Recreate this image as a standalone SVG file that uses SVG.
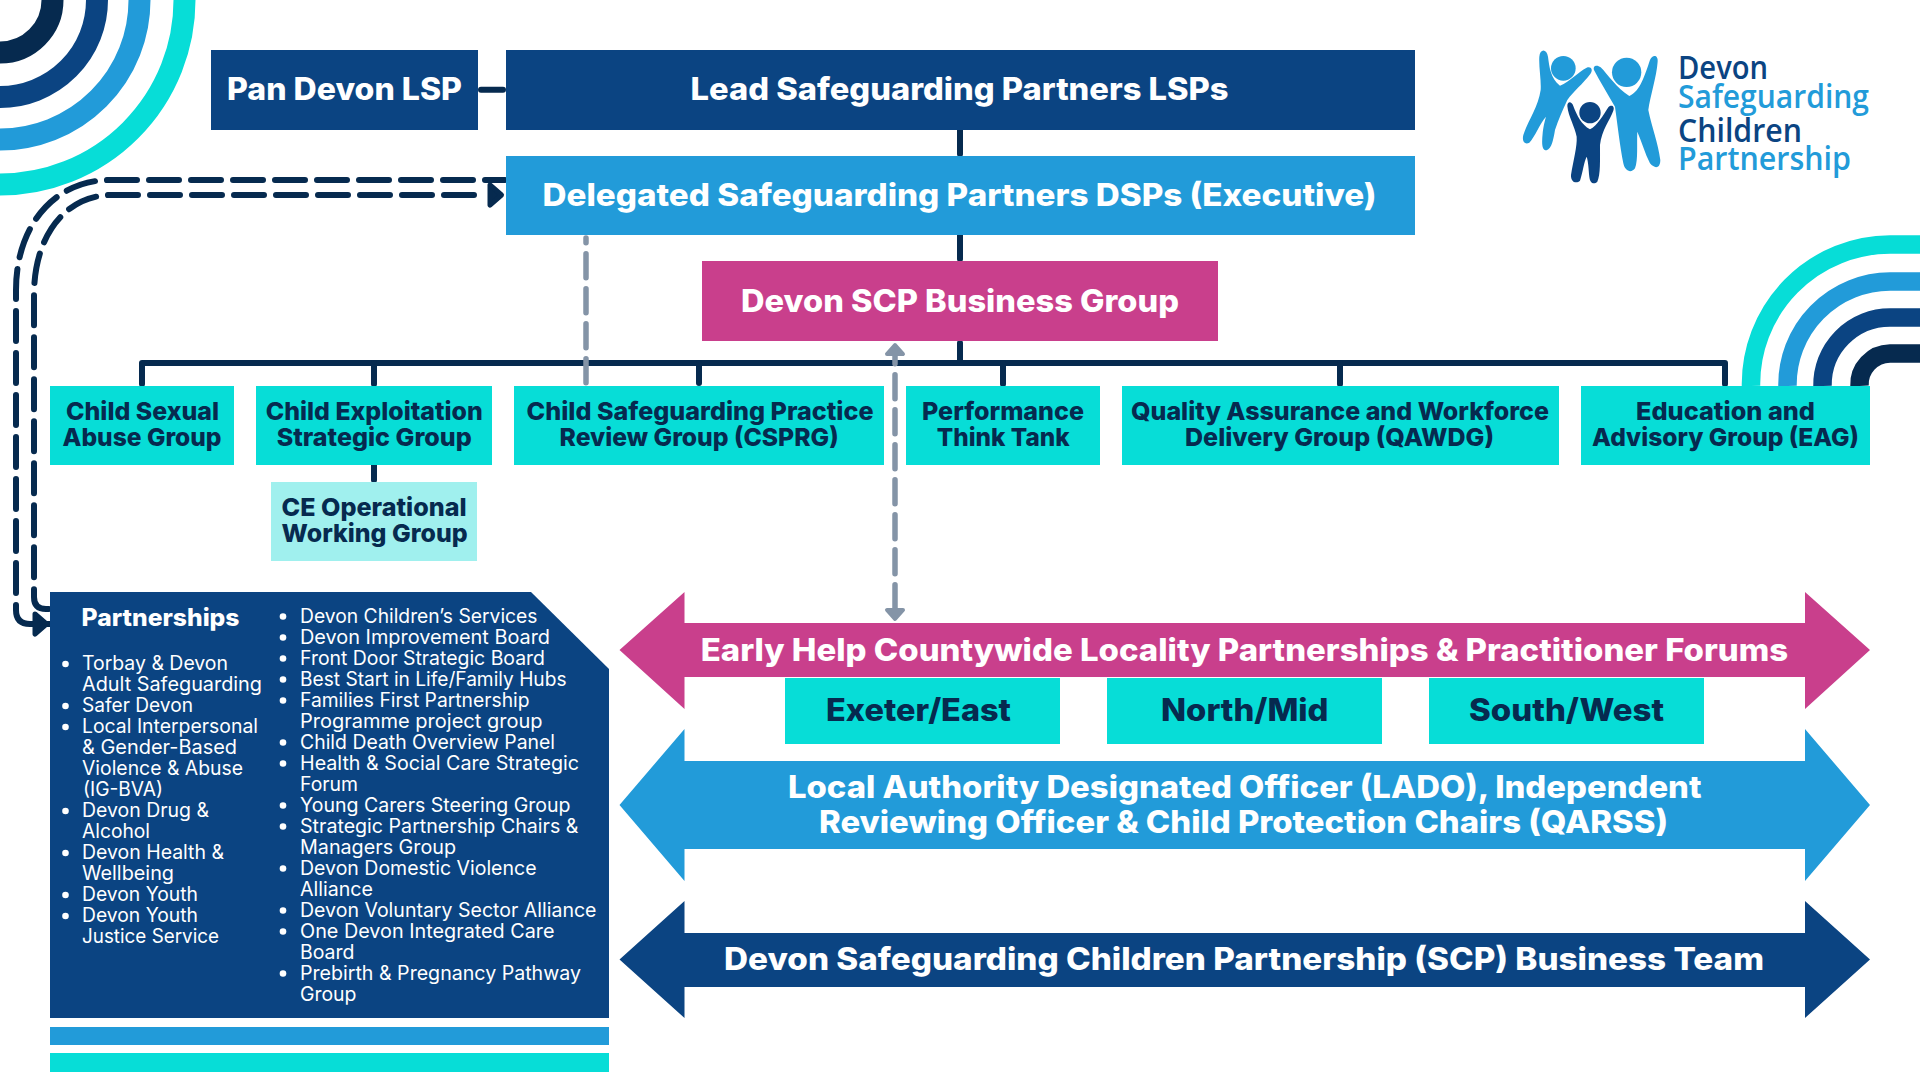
<svg xmlns="http://www.w3.org/2000/svg" width="1920" height="1080" viewBox="0 0 1920 1080">
<style>
text{font-family:"Inter","Noto Sans","Liberation Sans",sans-serif}
.h{font-weight:800;fill:#fff;font-size:31px}
.s{font-weight:800;fill:#062a4f;font-size:25px}
.d{font-weight:800;fill:#062a4f;font-size:31px}
.b{font-weight:400;fill:#fff;font-size:19.5px}
.navy{fill:#0b4482}.blue{fill:#229bd9}.teal{fill:#07ddd7}.pink{fill:#c93f8c}
.solid{fill:none;stroke:#062a4f;stroke-width:6;stroke-linecap:round;stroke-linejoin:round}
.dash{fill:none;stroke:#062a4f;stroke-width:6;stroke-linecap:round;stroke-dasharray:30 12}
.grey{fill:none;stroke:#8494a7;stroke-width:5.5;stroke-linecap:round;stroke-dasharray:24 11}
.ring{fill:none;stroke-width:22}
.arc{fill:none;stroke-width:18.5}
.lg{font-family:"Open Sans","Noto Sans",sans-serif;font-weight:600;font-size:33px}
</style>
<defs>
<marker id="hd" markerUnits="userSpaceOnUse" markerWidth="40" markerHeight="40" refX="20" refY="20" orient="auto-start-reverse" overflow="visible"><path d="M5,10 L16.5,20 L5,30 Z" fill="#062a4f" stroke="#062a4f" stroke-width="5" stroke-linejoin="round"/></marker>
<marker id="hg" markerUnits="userSpaceOnUse" markerWidth="40" markerHeight="40" refX="20" refY="20" orient="auto-start-reverse" overflow="visible"><path d="M18,12 L27,20 L18,28 Z" fill="#8494a7" stroke="#8494a7" stroke-width="4" stroke-linejoin="round"/></marker>
</defs>
<rect width="1920" height="1080" fill="#fff"/>

<g id="decor-top-left">
<circle class="ring" cx="0" cy="0" r="184.5" stroke="#07ddd7"/>
<circle class="ring" cx="0" cy="0" r="139.5" stroke="#229bd9"/>
<circle class="ring" cx="0" cy="0" r="97" stroke="#0b4482"/>
<circle class="ring" cx="0" cy="0" r="52.5" stroke="#062a4f"/>
</g>
<g id="decor-right">
<path class="arc" d="M1751,386 A139.5,139.5 0 0 1 1890,244.5 H1920" stroke="#07ddd7"/>
<path class="arc" d="M1787.5,386 A103,103 0 0 1 1890,281.5 H1920" stroke="#229bd9"/>
<path class="arc" d="M1822.5,386 A67.5,67.5 0 0 1 1890,317.5 H1920" stroke="#0b4482"/>
<path class="arc" d="M1859.5,386 A31,31 0 0 1 1890,353.5 H1920" stroke="#062a4f"/>
</g>

<g id="connectors">
<path class="solid" d="M481,89.7 H503"/>
<path class="solid" d="M960,130 V154"/>
<path class="solid" d="M960,235 V259"/>
<path class="solid" d="M960,343 V363"/>
<path class="solid" d="M142,384 V363 H1725 V384"/>
<path class="solid" d="M374,363 V384"/>
<path class="solid" d="M699,363 V383"/>
<path class="solid" d="M1003,363 V384"/>
<path class="solid" d="M1340,363 V384"/>
<path class="solid" d="M374,465 V480"/>
<path class="grey" stroke-dashoffset="19.3" d="M586,238 V383"/>
<path class="grey" stroke-dashoffset="12.3" d="M895,352 V612" marker-start="url(#hg)" marker-end="url(#hg)"/>
<path class="dash" stroke-dashoffset="10" d="M505,180 H110 C55,180 16,225 16,290 V610 Q16,624 30,624 H50" marker-end="url(#hd)"/>
<path class="dash" stroke-dashoffset="30" d="M486,195 H112 C66,195 34,235 34,295 V597 Q34,609 46,609 H50"/>
<path d="M505,195 H487" marker-start="url(#hd)" fill="none"/>
</g>

<g id="pan-devon-lsp"><rect class="navy" x="211" y="50" width="267" height="80"/><text class="h" x="227" y="99.5" textLength="235" lengthAdjust="spacingAndGlyphs">Pan Devon LSP</text></g>
<g id="lead-safeguarding-partners"><rect class="navy" x="506" y="50" width="909" height="80"/><text class="h" x="690.6" y="100" textLength="538" lengthAdjust="spacingAndGlyphs">Lead Safeguarding Partners LSPs</text></g>
<g id="delegated-safeguarding-partners"><rect class="blue" x="506" y="156" width="909" height="79"/><text class="h" x="542.5" y="206" textLength="834" lengthAdjust="spacingAndGlyphs">Delegated Safeguarding Partners DSPs (Executive)</text></g>
<g id="business-group"><rect class="pink" x="702" y="261" width="516" height="80"/><text class="h" x="741" y="312" textLength="438" lengthAdjust="spacingAndGlyphs">Devon SCP Business Group</text></g>

<g id="child-sexual-abuse"><rect class="teal" x="50" y="386" width="184" height="79"/><text class="s" x="66" y="420" textLength="153" lengthAdjust="spacingAndGlyphs">Child Sexual</text><text class="s" x="62.5" y="446" textLength="159" lengthAdjust="spacingAndGlyphs">Abuse Group</text></g>
<g id="child-exploitation"><rect class="teal" x="256" y="386" width="236" height="79"/><text class="s" x="265.7" y="420" textLength="217" lengthAdjust="spacingAndGlyphs">Child Exploitation</text><text class="s" x="276.7" y="446" textLength="195" lengthAdjust="spacingAndGlyphs">Strategic Group</text></g>
<g id="cspr-group"><rect class="teal" x="514" y="386" width="370" height="79"/><text class="s" x="526.5" y="420" textLength="347" lengthAdjust="spacingAndGlyphs">Child Safeguarding Practice</text><text class="s" x="559.6" y="446" textLength="279" lengthAdjust="spacingAndGlyphs">Review Group (CSPRG)</text></g>
<g id="performance-think-tank"><rect class="teal" x="906" y="386" width="194" height="79"/><text class="s" x="922" y="420" textLength="162" lengthAdjust="spacingAndGlyphs">Performance</text><text class="s" x="936.7" y="446" textLength="133" lengthAdjust="spacingAndGlyphs">Think Tank</text></g>
<g id="qawdg"><rect class="teal" x="1122" y="386" width="437" height="79"/><text class="s" x="1131" y="420" textLength="418" lengthAdjust="spacingAndGlyphs">Quality Assurance and Workforce</text><text class="s" x="1185" y="446" textLength="309" lengthAdjust="spacingAndGlyphs">Delivery Group (QAWDG)</text></g>
<g id="education-advisory"><rect class="teal" x="1581" y="386" width="289" height="79"/><text class="s" x="1636" y="420" textLength="179" lengthAdjust="spacingAndGlyphs">Education and</text><text class="s" x="1592" y="446" textLength="267" lengthAdjust="spacingAndGlyphs">Advisory Group (EAG)</text></g>
<g id="ce-operational"><rect x="271" y="482" width="206" height="79" fill="#a0f0ee"/><text class="s" x="281.6" y="515.5" textLength="185" lengthAdjust="spacingAndGlyphs">CE Operational</text><text class="s" x="281.6" y="541.5" textLength="186" lengthAdjust="spacingAndGlyphs">Working Group</text></g>

<g id="partnerships">
<path class="navy" d="M50,592 H531 L609,669 V1018 H50 Z"/>
<rect class="blue" x="50" y="1027" width="559" height="18"/>
<rect class="teal" x="50" y="1053" width="559" height="19"/>
<text x="81.5" y="625.5" font-size="24" font-weight="800" fill="#fff" textLength="158" lengthAdjust="spacingAndGlyphs">Partnerships</text>
<g fill="#fff">
<circle cx="65.5" cy="664" r="3.3"/><circle cx="65.5" cy="706" r="3.3"/><circle cx="65.5" cy="727" r="3.3"/><circle cx="65.5" cy="811" r="3.3"/><circle cx="65.5" cy="853" r="3.3"/><circle cx="65.5" cy="895" r="3.3"/><circle cx="65.5" cy="916" r="3.3"/>
<circle cx="283" cy="616.5" r="3.3"/><circle cx="283" cy="637.5" r="3.3"/><circle cx="283" cy="658.5" r="3.3"/><circle cx="283" cy="679.5" r="3.3"/><circle cx="283" cy="700.5" r="3.3"/><circle cx="283" cy="742.5" r="3.3"/><circle cx="283" cy="763.5" r="3.3"/><circle cx="283" cy="805.5" r="3.3"/><circle cx="283" cy="826.5" r="3.3"/><circle cx="283" cy="868.5" r="3.3"/><circle cx="283" cy="910.5" r="3.3"/><circle cx="283" cy="931.5" r="3.3"/><circle cx="283" cy="973.5" r="3.3"/>
</g>
<text class="b" x="82" y="670" textLength="146" lengthAdjust="spacingAndGlyphs">Torbay &amp; Devon</text>
<text class="b" x="82" y="691" textLength="180" lengthAdjust="spacingAndGlyphs">Adult Safeguarding</text>
<text class="b" x="82" y="712" textLength="111" lengthAdjust="spacingAndGlyphs">Safer Devon</text>
<text class="b" x="82" y="733" textLength="176" lengthAdjust="spacingAndGlyphs">Local Interpersonal</text>
<text class="b" x="82" y="754" textLength="155" lengthAdjust="spacingAndGlyphs">&amp; Gender-Based</text>
<text class="b" x="82" y="775" textLength="161" lengthAdjust="spacingAndGlyphs">Violence &amp; Abuse</text>
<text class="b" x="83" y="796" textLength="80" lengthAdjust="spacingAndGlyphs">(IG-BVA)</text>
<text class="b" x="82" y="817" textLength="127" lengthAdjust="spacingAndGlyphs">Devon Drug &amp;</text>
<text class="b" x="82" y="838" textLength="68" lengthAdjust="spacingAndGlyphs">Alcohol</text>
<text class="b" x="82" y="859" textLength="142" lengthAdjust="spacingAndGlyphs">Devon Health &amp;</text>
<text class="b" x="82" y="880" textLength="92" lengthAdjust="spacingAndGlyphs">Wellbeing</text>
<text class="b" x="82" y="901" textLength="116" lengthAdjust="spacingAndGlyphs">Devon Youth</text>
<text class="b" x="82" y="922" textLength="116" lengthAdjust="spacingAndGlyphs">Devon Youth</text>
<text class="b" x="82" y="943" textLength="137" lengthAdjust="spacingAndGlyphs">Justice Service</text>
<text class="b" x="300" y="623" textLength="237.5" lengthAdjust="spacingAndGlyphs">Devon Children’s Services</text>
<text class="b" x="300" y="644" textLength="250" lengthAdjust="spacingAndGlyphs">Devon Improvement Board</text>
<text class="b" x="300" y="665" textLength="245" lengthAdjust="spacingAndGlyphs">Front Door Strategic Board</text>
<text class="b" x="300" y="686" textLength="266.5" lengthAdjust="spacingAndGlyphs">Best Start in Life/Family Hubs</text>
<text class="b" x="300" y="707" textLength="229.5" lengthAdjust="spacingAndGlyphs">Families First Partnership</text>
<text class="b" x="300" y="728" textLength="242.5" lengthAdjust="spacingAndGlyphs">Programme project group</text>
<text class="b" x="300" y="749" textLength="255" lengthAdjust="spacingAndGlyphs">Child Death Overview Panel</text>
<text class="b" x="300" y="770" textLength="279" lengthAdjust="spacingAndGlyphs">Health &amp; Social Care Strategic</text>
<text class="b" x="300" y="791" textLength="58" lengthAdjust="spacingAndGlyphs">Forum</text>
<text class="b" x="300" y="812" textLength="270.5" lengthAdjust="spacingAndGlyphs">Young Carers Steering Group</text>
<text class="b" x="300" y="833" textLength="278.5" lengthAdjust="spacingAndGlyphs">Strategic Partnership Chairs &amp;</text>
<text class="b" x="300" y="854" textLength="156" lengthAdjust="spacingAndGlyphs">Managers Group</text>
<text class="b" x="300" y="875" textLength="236.5" lengthAdjust="spacingAndGlyphs">Devon Domestic Violence</text>
<text class="b" x="300" y="896" textLength="73" lengthAdjust="spacingAndGlyphs">Alliance</text>
<text class="b" x="300" y="917" textLength="296.5" lengthAdjust="spacingAndGlyphs">Devon Voluntary Sector Alliance</text>
<text class="b" x="300" y="938" textLength="254.5" lengthAdjust="spacingAndGlyphs">One Devon Integrated Care</text>
<text class="b" x="300" y="959" textLength="54.5" lengthAdjust="spacingAndGlyphs">Board</text>
<text class="b" x="300" y="980" textLength="281" lengthAdjust="spacingAndGlyphs">Prebirth &amp; Pregnancy Pathway</text>
<text class="b" x="300" y="1001" textLength="56.5" lengthAdjust="spacingAndGlyphs">Group</text>
</g>

<g id="early-help"><path class="pink" d="M619.5,650 L684.5,592 V623 H1805 V592 L1870,650 L1805,709 V677 H684.5 V709 Z"/><text class="h" x="700.7" y="660.5" font-size="30" textLength="1087.5" lengthAdjust="spacingAndGlyphs">Early Help Countywide Locality Partnerships &amp; Practitioner Forums</text></g>
<g id="exeter-east"><rect class="teal" x="785" y="678" width="275" height="66"/><text class="d" x="826" y="720.5" textLength="185" lengthAdjust="spacingAndGlyphs">Exeter/East</text></g>
<g id="north-mid"><rect class="teal" x="1107" y="678" width="275" height="66"/><text class="d" x="1161" y="720.5" textLength="167.5" lengthAdjust="spacingAndGlyphs">North/Mid</text></g>
<g id="south-west"><rect class="teal" x="1429" y="678" width="275" height="66"/><text class="d" x="1469" y="720.5" textLength="195" lengthAdjust="spacingAndGlyphs">South/West</text></g>
<g id="lado"><path class="blue" d="M619.5,805 L684.5,729 V761 H1805 V729 L1870,805 L1805,881 V849 H684.5 V881 Z"/><text class="h" x="788" y="798" textLength="913.5" lengthAdjust="spacingAndGlyphs">Local Authority Designated Officer (LADO), Independent</text><text class="h" x="819" y="833" textLength="849" lengthAdjust="spacingAndGlyphs">Reviewing Officer &amp; Child Protection Chairs (QARSS)</text></g>
<g id="business-team"><path class="navy" d="M619.5,959.5 L684.5,901 V933 H1805 V901 L1870,959.5 L1805,1018 V987 H684.5 V1018 Z"/><text class="h" x="724" y="970" textLength="1040" lengthAdjust="spacingAndGlyphs">Devon Safeguarding Children Partnership (SCP) Business Team</text></g>

<g id="logo">
<g transform="translate(1480,20) scale(.3333)">
<circle cx="250" cy="145" r="37" fill="#229bd9"/>
<circle cx="440" cy="157" r="44" fill="#229bd9"/>
<circle cx="330" cy="278" r="32" fill="#0b4482"/>
<path fill="#229bd9" d="M178,110 C180,85 200,85 204,110 C208,140 212,175 240,197 C270,185 295,155 320,143 C334,138 340,150 331,162 C310,190 280,215 262,240 C248,270 235,300 225,330 C220,360 215,385 200,391 C185,392 185,370 188,340 C190,320 195,300 198,290 C180,310 165,350 148,368 C135,375 125,365 130,345 C145,300 175,260 182,210 C184,180 176,140 178,110 Z"/>
<path fill="#229bd9" d="M342,150 C338,136 352,134 362,142 C385,165 410,205 448,228 C480,215 495,165 510,120 C518,102 535,105 533,125 C530,170 510,230 505,270 C515,320 535,370 541,420 C541,445 525,448 510,430 C495,400 485,365 472,335 C470,370 475,420 465,445 C455,460 435,455 430,430 C420,380 412,310 405,260 C385,225 360,185 342,150 Z"/>
<path fill="#0b4482" d="M262,258 C262,243 275,243 280,258 C290,285 305,315 330,328 C352,318 370,285 385,262 C395,252 405,260 400,272 C390,300 365,330 360,375 C360,420 362,465 352,485 C342,495 330,490 328,470 C326,450 325,425 320,410 C312,425 308,460 300,482 C290,492 272,488 273,465 C280,420 292,380 290,350 C285,320 265,290 262,258 Z"/>
</g>
<text class="lg" x="1678" y="79" fill="#0b4482" textLength="90" lengthAdjust="spacingAndGlyphs">Devon</text>
<text class="lg" x="1678" y="108" fill="#229bd9" textLength="191" lengthAdjust="spacingAndGlyphs">Safeguarding</text>
<text class="lg" x="1678" y="141.5" fill="#0b4482" textLength="124" lengthAdjust="spacingAndGlyphs">Children</text>
<text class="lg" x="1678" y="170" fill="#229bd9" textLength="173" lengthAdjust="spacingAndGlyphs">Partnership</text>
</g>
</svg>
